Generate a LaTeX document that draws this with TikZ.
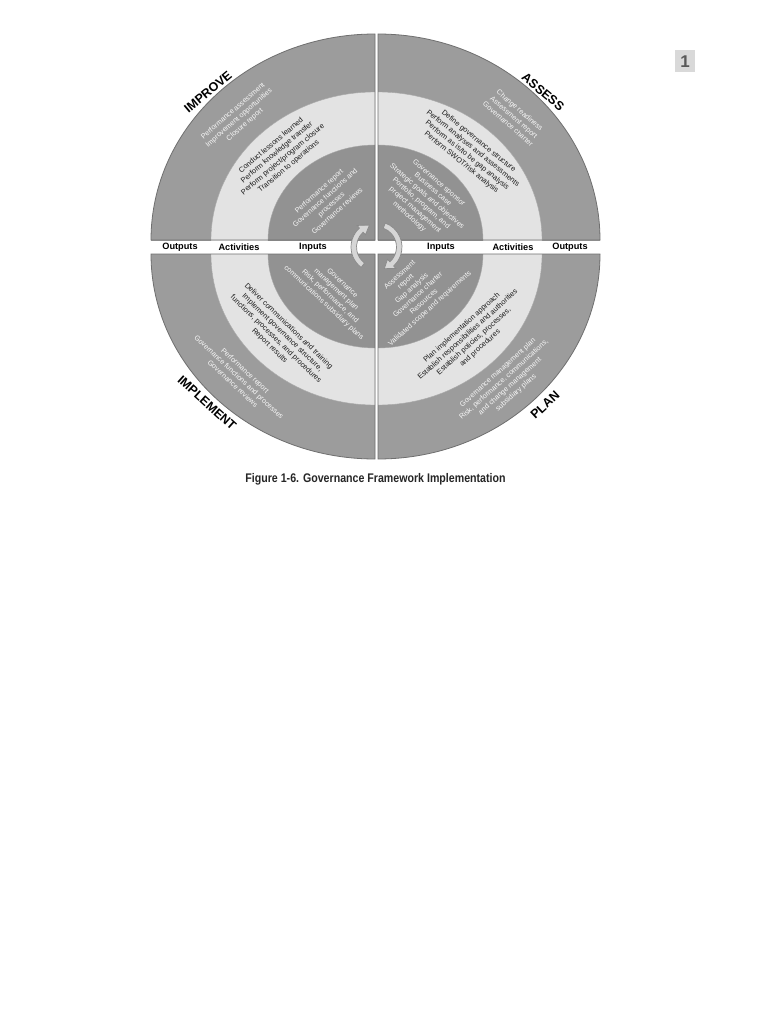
\documentclass[tikz,border=0pt]{standalone}
\usepackage{fontspec}
\setmainfont{Liberation Sans}
\newfontfamily\capfont[FakeStretch=0.85]{Liberation Sans}
\usetikzlibrary{calc}
\definecolor{outercol}{HTML}{9C9C9C}
\definecolor{actcol}{HTML}{E3E3E3}
\definecolor{inputcol}{HTML}{929292}
\definecolor{edgecol}{HTML}{6F6F6F}
\definecolor{lighttext}{HTML}{F7F7F7}
\definecolor{darktext}{HTML}{1C1C1C}
\definecolor{cyclecol}{HTML}{D6D6D6}
\definecolor{cycleedge}{HTML}{8A8A8A}
\definecolor{markcol}{HTML}{D9D9D9}
\tikzstyle{outring} = [fill=outercol]
\tikzstyle{actring} = [fill=actcol]
\tikzstyle{inring} = [fill=inputcol]
\tikzstyle{ringedge} = [draw=edgecol!60, line width=0.4pt]
\tikzstyle{quadedge} = [draw=edgecol, line width=0.8pt]
\tikzstyle{phaselabel} = [font=\fontsize{12.5}{12.5}\selectfont\bfseries, text=black, inner sep=0pt]
\tikzstyle{outtxt} = [font=\fontsize{7.2}{9}\selectfont, text=lighttext, align=center, inner sep=0pt]
\tikzstyle{acttxt} = [font=\fontsize{7.4}{9.1}\selectfont, text=darktext, align=center, inner sep=0pt]
\tikzstyle{intxt} = [font=\fontsize{7.2}{9}\selectfont, text=lighttext, align=center, inner sep=0pt]
\tikzstyle{bandlabel} = [font=\fontsize{9.2}{9.2}\selectfont\bfseries, text=black, inner sep=0pt]
\tikzstyle{cyclearrow} = [fill=cyclecol, draw=cycleedge, line width=0.7pt]

\begin{document}
\begin{tikzpicture}[x=1pt, y=-1pt]
\useasboundingbox (0,0) rectangle (768,1024);
\fill[white] (0,0) rectangle (768,1024);

%Improve quadrant
\begin{scope}
\clip (375,240) rectangle (140,20);
\fill[outring] (375,240) ellipse [x radius=224, y radius=206];
\fill[actring] (375,240) ellipse [x radius=164, y radius=148];
\fill[inring] (375,240) ellipse [x radius=107, y radius=95];
\draw[ringedge] (375,240) ellipse [x radius=164, y radius=148];
\draw[ringedge] (375,240) ellipse [x radius=107, y radius=95];
\end{scope}
\draw[quadedge] (375,240) -- (151,240) arc [start angle=180, end angle=270, x radius=224, y radius=206] -- cycle;

%Assess quadrant
\begin{scope}
\clip (378,240) rectangle (610,20);
\fill[outring] (378,240) ellipse [x radius=222, y radius=206];
\fill[actring] (378,240) ellipse [x radius=164, y radius=148];
\fill[inring] (378,240) ellipse [x radius=105, y radius=95];
\draw[ringedge] (378,240) ellipse [x radius=164, y radius=148];
\draw[ringedge] (378,240) ellipse [x radius=105, y radius=95];
\end{scope}
\draw[quadedge] (378,240) -- (600,240) arc [start angle=0, end angle=-90, x radius=222, y radius=206] -- cycle;

%Implement quadrant
\begin{scope}
\clip (375,254) rectangle (140,470);
\fill[outring] (375,254) ellipse [x radius=224, y radius=205];
\fill[actring] (375,254) ellipse [x radius=164, y radius=151];
\fill[inring] (375,254) ellipse [x radius=107, y radius=94];
\draw[ringedge] (375,254) ellipse [x radius=164, y radius=151];
\draw[ringedge] (375,254) ellipse [x radius=107, y radius=94];
\end{scope}
\draw[quadedge] (375,254) -- (151,254) arc [start angle=180, end angle=90, x radius=224, y radius=205] -- cycle;

%Plan quadrant
\begin{scope}
\clip (378,254) rectangle (610,470);
\fill[outring] (378,254) ellipse [x radius=222, y radius=205];
\fill[actring] (378,254) ellipse [x radius=164, y radius=151];
\fill[inring] (378,254) ellipse [x radius=105, y radius=94];
\draw[ringedge] (378,254) ellipse [x radius=164, y radius=151];
\draw[ringedge] (378,254) ellipse [x radius=105, y radius=94];
\end{scope}
\draw[quadedge] (378,254) -- (600,254) arc [start angle=0, end angle=90, x radius=222, y radius=205] -- cycle;

%Improve texts
\node (improve) [phaselabel, rotate=40] at (208,92) {IMPROVE};
\node (improveout) [outtxt, rotate=41] at (239,118) {Performance assessment\\Improvement opportunities\\Closure report};
\node (improveact) [acttxt, rotate=40] at (280,156) {Conduct lessons learned\\Perform knowledge transfer\\Perform project/program closure\\Transition to operations};
\node (improvein) [intxt, rotate=42] at (328,201) {Performance report\\Governance functions and\\processes\\Governance reviews};

%Assess texts
\node (assess) [phaselabel, rotate=-40] at (543,92) {ASSESS};
\node (assessout) [outtxt, rotate=-41] at (514,117) {Change readiness\\Assessment report\\Governance charter};
\node (assessact) [acttxt, rotate=-39] at (470,152) {Define governance structure\\Perform analyses and assessments\\Perform as is/to be gap analysis\\Perform SWOT/risk analysis};
\node (assessin) [intxt, rotate=-41] at (424,200) {Governance sponsor\\Business case\\Strategic goals and objectives\\Portfolio, program, and\\project management\\methodology};

%Implement texts
\node (implement) [phaselabel, rotate=-42] at (207,403) {IMPLEMENT};
\node (implementout) [outtxt, rotate=-43] at (239,377) {Performance report\\Governance functions and processes\\Governance reviews};
\node (implementact) [acttxt, rotate=-44] at (279,336) {Deliver communications and training\\Implement governance structure,\\functions, processes, and procedures\\Report results};
\node (implementin) [intxt, rotate=-43] at (333,293) {Governance\\management plan\\Risk, performance, and\\communications subsidiary plans};

%Plan texts
\node (plan) [phaselabel, rotate=43] at (545,405) {PLAN};
\node (planout) [outtxt, rotate=42] at (507,383) {Governance management plan\\Risk, performance, communications,\\and change management\\subsidiary plans};
\node (planact) [acttxt, rotate=42] at (471,338) {Plan implementation approach\\Establish responsibilities and authorities\\Establish policies, processes,\\and procedures};
\node (planin) [intxt, rotate=42] at (415,292) {Assessment\\report\\Gap analysis\\Governance charter\\Resources\\Validated scope and requirements};

%Band labels
\node (outleft) [bandlabel] at (180,247) {Outputs};
\node (actleft) [bandlabel] at (239,247) {Activities};
\node (inleft) [bandlabel] at (313,247) {Inputs};
\node (inright) [bandlabel] at (441,247) {Inputs};
\node (actright) [bandlabel] at (513,247) {Activities};
\node (outright) [bandlabel] at (570,247) {Outputs};

%Cycle arrows
\coordinate (hub) at (376.5,247);
\filldraw[cyclearrow] ($(hub)+(127:25.5)$) arc [start angle=127, end angle=228, radius=25.5] -- ($(hub)+(228:29)$) -- ($(hub)+(252:23)$) -- ($(hub)+(228:16.5)$) -- ($(hub)+(228:20)$) arc [start angle=228, end angle=127, radius=20] -- cycle;
\filldraw[cyclearrow] ($(hub)+(290:25.5)$) arc [start angle=290, end angle=408, radius=25.5] -- ($(hub)+(408:29)$) -- ($(hub)+(430:23)$) -- ($(hub)+(408:16.5)$) -- ($(hub)+(408:20)$) arc [start angle=408, end angle=290, radius=20] -- cycle;

%Caption and page mark
\node (caption) [font=\capfont\fontsize{12.5}{12.5}\selectfont\bfseries, text=black!85] at (375.5,479) {Figure 1-6. Governance Framework Implementation};
\node (pagemark) [fill=markcol, minimum width=20pt, minimum height=22pt, inner sep=0pt, font=\fontsize{17}{17}\selectfont\bfseries, text=black!65] at (685,61.5) {1};
\end{tikzpicture}
\end{document}
